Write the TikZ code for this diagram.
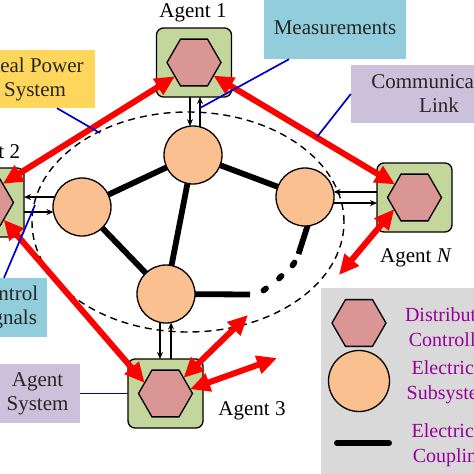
\documentclass[tikz,border=0pt]{standalone}
\usepackage{fontspec}
\setmainfont{Liberation Serif}
\usetikzlibrary{arrows.meta,shapes.geometric,calc}
\definecolor{agreen}{RGB}{195,214,155}
\definecolor{hexc}{RGB}{217,150,148}
\definecolor{peach}{RGB}{250,192,144}
\definecolor{lblue}{RGB}{146,205,220}
\definecolor{lav}{RGB}{204,193,218}
\definecolor{gold}{RGB}{255,214,92}
\definecolor{lgray}{RGB}{217,217,217}
\definecolor{purp}{RGB}{153,0,153}
\definecolor{bline}{RGB}{0,0,204}
\pgfdeclarelayer{back}
\pgfdeclarelayer{bg}
\pgfsetlayers{back,bg,main}
\begin{document}
\begin{tikzpicture}[x=1pt,y=-1pt,
  agentbox/.style={draw, line width=1.3pt, rounded corners=7pt, fill=agreen, minimum width=75pt, minimum height=69pt, inner sep=0pt, outer sep=0pt},
  hexa/.style={regular polygon, regular polygon sides=6, minimum size=54pt, inner sep=0pt, outer sep=0pt, draw, line width=1.3pt, fill=hexc},
  sub/.style={circle, minimum size=58pt, inner sep=0pt, outer sep=0pt, draw, line width=1.3pt, fill=peach},
  coup/.style={line width=5.8pt},
  dashseg/.style={line width=5.8pt, line cap=round},
  sig/.style={line width=1.2pt, -{Stealth[length=7pt,width=6pt]}},
  comm/.style={red, line width=6pt, {Triangle[length=20pt,width=18pt]}-{Triangle[length=20pt,width=18pt]}},
  lab/.style={font=\fontsize{21}{24}\selectfont, align=center, inner sep=0pt},
  callout/.style={lab, text=black!85},
  pointer/.style={draw=bline, line width=1.7pt},
  legtext/.style={text=purp, font=\fontsize{20}{25}\selectfont, align=center, inner sep=0pt}
]
\useasboundingbox (0,0) rectangle (474,474);
\begin{pgfonlayer}{back}
\fill[white] (0,0) rectangle (474,474);
\end{pgfonlayer}

% dashed boundary of the power system
\draw[line width=1.4pt, dash pattern=on 7pt off 5pt] (188,222) ellipse [x radius=156pt, y radius=110pt];

% agents
\node[agentbox] (a1) at (194,62.5) {};
\node[hexa] (a1h) at (a1) {};
\node[agentbox] (a2) at (-13.5,202.5) {};
\node[hexa] (a2h) at (a2) {};
\node[agentbox] (aN) at (414.5,197.5) {};
\node[hexa] (aNh) at (aN) {};
\node[agentbox] (a3) at (165.5,393.5) {};
\node[hexa] (a3h) at (a3) {};

\node[lab, anchor=base] (l1) at (193,17) {Agent 1};
\node[lab, anchor=base] (l2) at (-13.5,158) {Agent 2};
\node[lab, anchor=base] (lN) at (416,262) {Agent \textit{N}};
\node[lab, anchor=base] (l3) at (252,415) {Agent 3};

% electrical subsystems
\node[sub] (c1) at (193,155) {};
\node[sub] (c2) at (82,207) {};
\node[sub] (c3) at (305,197) {};
\node[sub] (c4) at (166,294) {};

\coordinate (e1) at (250,294.5);
\coordinate (e2) at (298.5,254);
\coordinate (d1a) at (266,288.5); \coordinate (d1b) at (263.5,290.5);
\coordinate (d2a) at (281.5,276); \coordinate (d2b) at (279,278.5);
\coordinate (d3a) at (294.5,262.5); \coordinate (d3b) at (292.5,265.5);
\begin{pgfonlayer}{bg}
\draw[coup] (c2.center) -- (c1.center);
\draw[coup] (c2.center) -- (c4.center);
\draw[coup] (c1.center) -- (c4.center);
\draw[coup] (c1.center) -- (c3.center);
\draw[coup] (c4.center) -- (e1);
\draw[coup, shorten <=-4pt] (c3.275) -- (e2);
\draw[dashseg] (d1a) -- (d1b);
\draw[dashseg] (d2a) -- (d2b);
\draw[dashseg] (d3a) -- (d3b);
\end{pgfonlayer}

% measurement / control signals
\draw[sig] (c1.96 |- a1.south) -- (c1.96);
\draw[sig] (c1.76) -- (c1.76 |- a1.south);
\draw[sig] (c2.160) -- (c2.160 -| a2.east);
\draw[sig] (c2.190 -| a2.east) -- (c2.190);
\draw[sig] (c3.10 -| aN.west) -- (c3.10);
\draw[sig] (c3.348) -- (c3.348 -| aN.west);
\draw[sig] (c4.258) -- (c4.258 |- a3.north);
\draw[sig] (c4.280 |- a3.north) -- (c4.280);

% communication links
\coordinate (f1) at (248,315);
\coordinate (f2) at (277,358);
\coordinate (f3) at (339,275);
\draw[comm] (a1h.216) -- (a2h.49);
\draw[comm] (a1h.326) -- (aNh.146);
\draw[comm] (a2h.315) -- (a3h.153);
\draw[comm] (a3h.41) -- (f1);
\draw[comm] (a3h.10) -- (f2);
\draw[comm] (aNh.210) -- (f3);

% callouts
\node[callout, fill=lblue, minimum width=142pt, minimum height=62pt] (meas) at (335,28) {Measurements};
\node[callout, fill=lav, minimum width=176pt, minimum height=58pt] (comml) at (439,94) {Communication\\Link};
\node[callout, fill=gold, minimum width=120pt, minimum height=58pt] (rps) at (35,79) {Real Power\\System};
\node[callout, fill=lblue, minimum width=82pt, minimum height=59pt] (ctrl) at (6,307.5) {Control\\Signals};
\node[callout, fill=lav, minimum width=85pt, minimum height=59pt] (asys) at (37.5,393.5) {Agent\\System};

\coordinate (p1) at (200,108);
\coordinate (p2) at (317,137);
\coordinate (p3) at (100,133);
\coordinate (p4) at (35,205);
\draw[pointer] ([xshift=-46pt]meas.south) -- (p1);
\draw[pointer] (comml.west) -- (p2);
\draw[pointer] ([xshift=22pt]rps.south) -- (p3);
\draw[pointer] ([xshift=-2pt]ctrl.north) -- (p4);
\draw[pointer] (asys.east) -- (a3.west);

% legend
\fill[lgray] (321,288) rectangle (480,480);
\node[hexa] (lh) at (359,323) {};
\node[sub, minimum size=61pt] (lc) at (359,381) {};
\coordinate (ls) at (337,443);
\coordinate (le) at (389,443);
\draw[line width=6pt, line cap=round] (ls) -- (le);
\node[legtext] (t1) at (450,327.5) {Distributed\\Controller};
\node[legtext] (t2) at (450,382.5) {Electrical\\Subsystem};
\node[legtext] (t3) at (450,445.5) {Electrical\\Coupling};
\end{tikzpicture}
\end{document}
